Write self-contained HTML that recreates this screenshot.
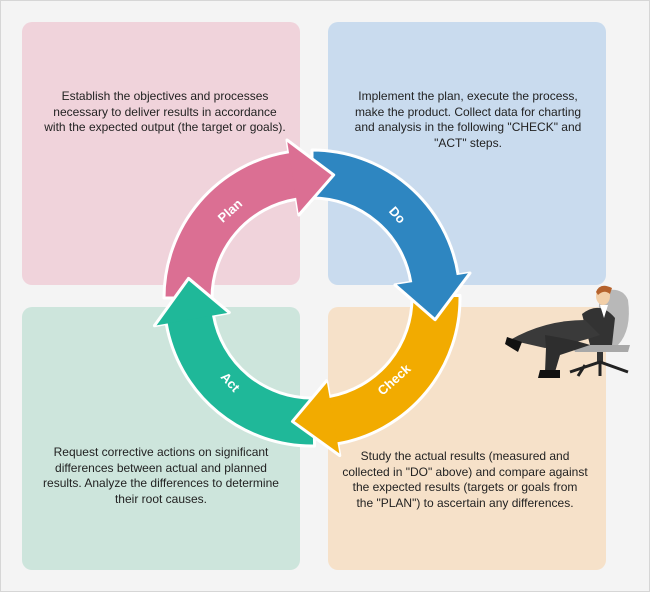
<!DOCTYPE html>
<html><head><meta charset="utf-8"><style>
html,body{margin:0;padding:0;}
body{width:650px;height:592px;background:#f4f4f4;position:relative;overflow:hidden;font-family:"Liberation Sans",Arial,sans-serif;}
.frame{position:absolute;left:0;top:0;width:648px;height:590px;border:1px solid #d6d6d6;}
.box{position:absolute;width:278px;height:263px;border-radius:10px;}
.t{position:absolute;width:278px;text-align:center;font-size:12px;line-height:15.7px;color:#222;}
</style></head><body>
<div class="frame"></div>
<div class="box" style="left:22px;top:22px;background:#f0d3db"></div>
<div class="box" style="left:328px;top:22px;background:#c9dbee"></div>
<div class="box" style="left:22px;top:307px;background:#cde5dc"></div>
<div class="box" style="left:328px;top:307px;background:#f6e1c9"></div>
<div class="t" style="left:26px;top:89px">Establish the objectives and processes<br>necessary to deliver results in accordance<br>with the expected output (the target or goals).</div>
<div class="t" style="left:329px;top:89px">Implement the plan, execute the process,<br>make the product. Collect data for charting<br>and analysis in the following "CHECK" and<br>"ACT" steps.</div>
<div class="t" style="left:22px;top:445px">Request corrective actions on significant<br>differences between actual and planned<br>results. Analyze the differences to determine<br>their root causes.</div>
<div class="t" style="left:326px;top:449px">Study the actual results (measured and<br>collected in "DO" above) and compare against<br>the expected results (targets or goals from<br>the "PLAN") to ascertain any differences.</div>
<svg width="650" height="592" style="position:absolute;left:0;top:0">
<defs>
<path id="body" d="M0,-148 A148,148 0 0 1 146.18,-23.15 L158.03,-25.03 L123.10,21.70 L82.97,-13.14 L98.77,-15.64 A100,100 0 0 0 0,-100 Z"/>
<path id="head" d="M158.03,-25.03 L123.10,21.70 L82.97,-13.14 Z"/>
<path id="hedge" d="M158.03,-25.03 L123.10,21.70 L82.97,-13.14"/>
</defs>
<g transform="translate(312,298)" stroke-linejoin="round">
<g stroke="#fff" stroke-width="3">
<use href="#body" transform="rotate(-90)" fill="#db6f93"/>
<use href="#body" transform="rotate(0)" fill="#2e86c1"/>
<use href="#body" transform="rotate(89)" fill="#f2ab00"/>
<use href="#body" transform="rotate(179)" fill="#1fb899"/>
</g>
<g transform="rotate(-90)"><use href="#head" fill="#db6f93"/><use href="#hedge" fill="none" stroke="#fff" stroke-width="3"/></g>
<g transform="rotate(0)"><use href="#head" fill="#2e86c1"/><use href="#hedge" fill="none" stroke="#fff" stroke-width="3"/></g>
<g transform="rotate(89)"><use href="#head" fill="#f2ab00"/><use href="#hedge" fill="none" stroke="#fff" stroke-width="3"/></g>
<g transform="rotate(179)"><use href="#head" fill="#1fb899"/><use href="#hedge" fill="none" stroke="#fff" stroke-width="3"/></g>
</g>
<g fill="#fff" font-family="Liberation Sans,Arial,sans-serif" font-weight="bold" font-size="13" text-anchor="middle">
<text transform="translate(233,214) rotate(-42)">Plan</text>
<text transform="translate(394,218) rotate(48)">Do</text>
<text transform="translate(397,383) rotate(-42)">Check</text>
<text transform="translate(227,385) rotate(48)">Act</text>
</g>
<g>
<path d="M600,292 Q622,285 628,300 Q632,330 618,345 L595,345 Q598,320 600,292Z" fill="#b8b8b8"/>
<path d="M572,345 L630,345 L628,352 L575,352Z" fill="#a8a8a8"/>
<rect x="597" y="352" width="6" height="12" fill="#333"/>
<path d="M570,372 L600,362 L628,372 M600,362 L600,376 M585,365 L578,376" stroke="#222" stroke-width="3" fill="none"/>
<path d="M582,314 Q600,300 615,318 L612,345 L590,345Z" fill="#333"/>
<path d="M510,340 Q545,320 585,320 L600,335 Q570,345 545,348Z" fill="#3a3a3a"/>
<path d="M545,335 Q575,340 590,345 L560,355 L555,372 L545,372 L546,348Z" fill="#2e2e2e"/>
<path d="M507,337 L522,342 L518,352 L505,344Z" fill="#111"/>
<path d="M540,370 L560,370 L560,378 L538,378Z" fill="#111"/>
<ellipse cx="603" cy="296" rx="7" ry="9" fill="#f2cfa8"/>
<path d="M596,292 Q600,282 612,288 L610,294 Q604,289 598,295Z" fill="#b5622c"/>
<path d="M600,305 L608,305 L604,318Z" fill="#fff"/>
</g>
</svg>
</body></html>
